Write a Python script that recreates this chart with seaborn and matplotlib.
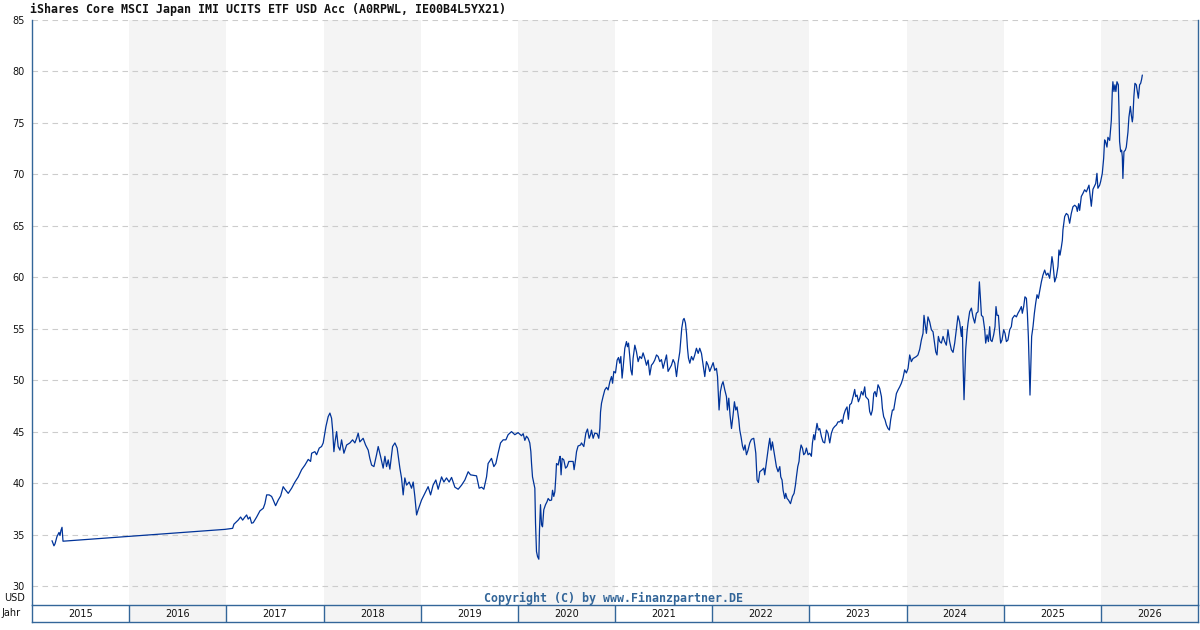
import numpy as np
import pandas as pd
import matplotlib.pyplot as plt
import seaborn as sns

# ------------------------------------------------------------------------------
# Data
# ------------------------------------------------------------------------------
title = "iShares Core MSCI Japan IMI UCITS ETF USD Acc (A0RPWL, IE00B4L5YX21)"
copyright_text = "Copyright (C) by www.Finanzpartner.DE"
years = list(range(2015, 2027))
y_ticks = [30, 35, 40, 45, 50, 55, 60, 65, 70, 75, 80, 85]

# time as decimal year
dates = [
    2015.206, 2015.226, 2015.237, 2015.257, 2015.278, 2015.288, 2015.298, 2015.309, 2015.319,
    2016.986, 2017.065, 2017.078, 2017.122, 2017.147, 2017.168, 2017.191, 2017.209, 2017.225,
    2017.243, 2017.260, 2017.277, 2017.312, 2017.346, 2017.380, 2017.397, 2017.415, 2017.441,
    2017.466, 2017.483, 2017.507, 2017.534, 2017.559, 2017.585, 2017.603, 2017.637, 2017.672,
    2017.706, 2017.740, 2017.775, 2017.809, 2017.843, 2017.867, 2017.878, 2017.911, 2017.929,
    2017.956, 2017.980, 2017.997, 2018.025, 2018.048, 2018.066, 2018.083, 2018.094, 2018.107,
    2018.117, 2018.135, 2018.151, 2018.169, 2018.186, 2018.210, 2018.238, 2018.272, 2018.299,
    2018.323, 2018.341, 2018.357, 2018.374, 2018.408, 2018.433, 2018.460, 2018.477, 2018.495,
    2018.519, 2018.546, 2018.563, 2018.587, 2018.614, 2018.632, 2018.649, 2018.666, 2018.683,
    2018.711, 2018.735, 2018.758, 2018.786, 2018.803, 2018.820, 2018.837, 2018.855, 2018.882,
    2018.906, 2018.923, 2018.940, 2018.958, 2018.974, 2019.009, 2019.043, 2019.077, 2019.102,
    2019.128, 2019.156, 2019.180, 2019.215, 2019.239, 2019.266, 2019.293, 2019.318, 2019.352,
    2019.386, 2019.421, 2019.455, 2019.489, 2019.513, 2019.575, 2019.602, 2019.627, 2019.650,
    2019.678, 2019.694, 2019.729, 2019.753, 2019.774, 2019.797, 2019.822, 2019.849, 2019.877,
    2019.900, 2019.935, 2019.969, 2020.003, 2020.038, 2020.055, 2020.072, 2020.089, 2020.106,
    2020.123, 2020.134, 2020.141, 2020.151, 2020.165, 2020.175, 2020.182, 2020.192, 2020.203,
    2020.216, 2020.223, 2020.233, 2020.244, 2020.254, 2020.267, 2020.285, 2020.301, 2020.312,
    2020.329, 2020.347, 2020.357, 2020.370, 2020.381, 2020.391, 2020.398, 2020.415, 2020.425,
    2020.435, 2020.445, 2020.456, 2020.473, 2020.491, 2020.507, 2020.525, 2020.569, 2020.579,
    2020.594, 2020.604, 2020.620, 2020.645, 2020.655, 2020.679, 2020.700, 2020.717, 2020.734,
    2020.748, 2020.758, 2020.775, 2020.792, 2020.816, 2020.833, 2020.844, 2020.851, 2020.861,
    2020.877, 2020.895, 2020.913, 2020.929, 2020.947, 2020.964, 2020.975, 2020.988, 2021.005,
    2021.022, 2021.036, 2021.049, 2021.060, 2021.073, 2021.083, 2021.101, 2021.118, 2021.128,
    2021.139, 2021.152, 2021.163, 2021.176, 2021.186, 2021.204, 2021.221, 2021.238, 2021.255,
    2021.273, 2021.289, 2021.307, 2021.324, 2021.341, 2021.358, 2021.375, 2021.392, 2021.409,
    2021.427, 2021.444, 2021.461, 2021.478, 2021.495, 2021.512, 2021.530, 2021.546, 2021.564,
    2021.581, 2021.598, 2021.615, 2021.633, 2021.649, 2021.667, 2021.677, 2021.687, 2021.701,
    2021.711, 2021.725, 2021.736, 2021.746, 2021.756, 2021.770, 2021.787, 2021.804, 2021.821,
    2021.838, 2021.856, 2021.872, 2021.890, 2021.914, 2021.924, 2021.941, 2021.958, 2021.975,
    2021.993, 2022.010, 2022.027, 2022.044, 2022.055, 2022.065, 2022.071, 2022.085, 2022.099,
    2022.112, 2022.130, 2022.147, 2022.157, 2022.171, 2022.184, 2022.199, 2022.215, 2022.229,
    2022.243, 2022.256, 2022.274, 2022.284, 2022.297, 2022.312, 2022.325, 2022.338, 2022.353,
    2022.369, 2022.387, 2022.404, 2022.428, 2022.438, 2022.449, 2022.462, 2022.476, 2022.490,
    2022.510, 2022.531, 2022.541, 2022.559, 2022.569, 2022.582, 2022.593, 2022.606, 2022.620,
    2022.634, 2022.647, 2022.661, 2022.678, 2022.696, 2022.706, 2022.719, 2022.730, 2022.747,
    2022.757, 2022.771, 2022.785, 2022.806, 2022.826, 2022.843, 2022.857, 2022.867, 2022.881,
    2022.894, 2022.901, 2022.915, 2022.929, 2022.942, 2022.956, 2022.970, 2022.987, 2023.004,
    2023.021, 2023.032, 2023.045, 2023.056, 2023.066, 2023.079, 2023.093, 2023.107, 2023.125,
    2023.141, 2023.158, 2023.176, 2023.192, 2023.210, 2023.227, 2023.244, 2023.261, 2023.279,
    2023.295, 2023.313, 2023.330, 2023.340, 2023.354, 2023.371, 2023.388, 2023.402, 2023.416,
    2023.433, 2023.450, 2023.467, 2023.477, 2023.491, 2023.505, 2023.519, 2023.536, 2023.553,
    2023.570, 2023.580, 2023.594, 2023.608, 2023.621, 2023.635, 2023.649, 2023.663, 2023.676,
    2023.690, 2023.707, 2023.724, 2023.742, 2023.752, 2023.765, 2023.779, 2023.793, 2023.810,
    2023.824, 2023.837, 2023.855, 2023.868, 2023.882, 2023.896, 2023.913, 2023.930, 2023.947,
    2023.964, 2023.981, 2023.999, 2024.016, 2024.033, 2024.050, 2024.067, 2024.102, 2024.118,
    2024.136, 2024.153, 2024.170, 2024.180, 2024.190, 2024.205, 2024.221, 2024.239, 2024.256,
    2024.273, 2024.287, 2024.301, 2024.314, 2024.328, 2024.342, 2024.359, 2024.376, 2024.393,
    2024.410, 2024.427, 2024.444, 2024.462, 2024.479, 2024.496, 2024.513, 2024.530, 2024.547,
    2024.565, 2024.575, 2024.581, 2024.592, 2024.599, 2024.609, 2024.623, 2024.633, 2024.650,
    2024.668, 2024.684, 2024.702, 2024.719, 2024.736, 2024.743, 2024.750, 2024.760, 2024.771,
    2024.787, 2024.805, 2024.815, 2024.829, 2024.843, 2024.856, 2024.866, 2024.880, 2024.897,
    2024.911, 2024.921, 2024.932, 2024.946, 2024.959, 2024.969, 2024.983, 2025.000, 2025.014,
    2025.028, 2025.044, 2025.062, 2025.079, 2025.090, 2025.113, 2025.131, 2025.147, 2025.165,
    2025.182, 2025.192, 2025.206, 2025.219, 2025.234, 2025.244, 2025.254, 2025.264, 2025.271,
    2025.278, 2025.288, 2025.302, 2025.316, 2025.329, 2025.343, 2025.357, 2025.370, 2025.388,
    2025.404, 2025.422, 2025.439, 2025.456, 2025.473, 2025.487, 2025.497, 2025.507, 2025.525,
    2025.542, 2025.559, 2025.569, 2025.580, 2025.594, 2025.604, 2025.610, 2025.628, 2025.645,
    2025.662, 2025.679, 2025.696, 2025.713, 2025.731, 2025.748, 2025.758, 2025.772, 2025.782,
    2025.799, 2025.816, 2025.833, 2025.851, 2025.878, 2025.902, 2025.919, 2025.947, 2025.960,
    2025.970, 2025.988, 2025.998, 2026.015, 2026.029, 2026.039, 2026.049, 2026.063, 2026.073,
    2026.091, 2026.108, 2026.118, 2026.124, 2026.135, 2026.145, 2026.155, 2026.166, 2026.180,
    2026.186, 2026.193, 2026.204, 2026.214, 2026.221, 2026.227, 2026.238, 2026.252, 2026.262,
    2026.279, 2026.289, 2026.304, 2026.314, 2026.324, 2026.330, 2026.340, 2026.351, 2026.365,
    2026.375, 2026.386, 2026.399, 2026.410, 2026.420, 2026.427,
]

# price in USD
prices = [
    34.4, 33.9, 34.1, 34.8, 35.2, 34.9, 35.4, 35.7, 34.35,
    35.5, 35.6, 36.0, 36.4, 36.7, 36.4, 36.7, 36.9, 36.5,
    36.7, 36.1, 36.15, 36.7, 37.3, 37.55, 38.0, 38.85, 38.85,
    38.7, 38.35, 37.8, 38.35, 38.75, 39.65, 39.4, 39.0, 39.5,
    40.1, 40.6, 41.3, 41.75, 42.3, 42.1, 42.9, 43.05, 42.75,
    43.4, 43.55, 43.9, 45.5, 46.45, 46.8, 46.3, 45.15, 43.05,
    43.9, 45.0, 43.55, 43.2, 44.2, 42.9, 43.7, 43.9, 44.2,
    43.9, 44.35, 44.85, 44.0, 44.35, 43.7, 43.2, 42.4, 41.75,
    41.6, 42.75, 43.55, 42.6, 41.45, 42.6, 41.6, 42.25, 41.35,
    43.55, 43.9, 43.4, 41.45, 40.5, 38.85, 40.5, 39.8, 40.1,
    39.5, 40.1, 38.7, 36.9, 37.4, 38.35, 39.0, 39.65, 38.85,
    39.8, 40.3, 39.4, 40.6, 40.1, 40.5, 40.1, 40.55, 39.6,
    39.4, 39.8, 40.3, 41.1, 40.8, 40.7, 39.5, 39.6, 39.4,
    40.6, 41.9, 42.4, 41.6, 41.9, 42.9, 43.9, 44.2, 44.2,
    44.7, 45.0, 44.7, 44.9, 44.6, 44.8, 44.15, 44.55, 44.35,
    43.9, 43.05, 41.9, 40.6, 39.95, 39.5, 36.1, 33.35, 32.85,
    32.6, 35.45, 37.9, 35.95, 35.75, 37.4, 37.9, 38.2, 38.5,
    38.3, 38.35, 39.3, 38.7, 39.15, 40.6, 41.9, 41.75, 42.25,
    42.6, 40.8, 42.4, 42.25, 41.45, 41.6, 42.1, 42.1, 41.3,
    42.25, 43.05, 43.6, 43.7, 43.9, 43.55, 44.85, 45.25, 44.35,
    44.7, 45.15, 44.35, 44.85, 44.8, 44.35, 45.3, 46.9, 47.75,
    48.4, 49.05, 49.3, 49.05, 49.85, 50.35, 49.7, 50.85, 50.7,
    51.95, 52.2, 51.65, 52.3, 50.2, 51.15, 53.1, 53.75, 53.25,
    53.6, 52.3, 51.0, 50.5, 52.1, 53.4, 52.75, 51.8, 52.3,
    52.1, 52.65, 52.1, 51.45, 51.95, 50.5, 51.45, 51.65, 51.95,
    52.45, 52.3, 51.8, 52.0, 51.15, 51.8, 52.45, 50.85, 51.15,
    51.45, 52.0, 51.65, 50.35, 51.65, 52.75, 53.9, 55.05, 55.85,
    56.0, 55.55, 54.55, 53.1, 52.15, 51.65, 52.3, 51.95, 52.45,
    53.1, 52.6, 53.1, 52.6, 51.05, 50.35, 51.8, 51.45, 50.85,
    51.3, 51.7, 50.95, 51.15, 50.35, 48.4, 47.1, 48.9, 49.55,
    49.85, 49.05, 48.4, 47.1, 48.25, 46.6, 45.3, 46.6, 47.9,
    47.1, 47.4, 46.15, 45.15, 44.5, 43.6, 43.2, 43.7, 42.75,
    43.2, 43.9, 44.25, 44.35, 43.7, 42.9, 40.3, 40.05, 41.1,
    41.25, 41.45, 40.8, 42.1, 42.9, 43.7, 44.35, 43.2, 44.0,
    43.2, 42.4, 41.6, 41.1, 41.6, 40.6, 40.3, 39.3, 38.5,
    39.0, 38.5, 38.35, 38.0, 38.7, 39.0, 39.8, 40.6, 41.6,
    42.1, 42.9, 43.7, 43.4, 42.75, 42.9, 43.4, 42.75, 42.9,
    42.6, 43.9, 44.7, 44.2, 45.0, 45.8, 45.15, 45.3, 44.5,
    44.0, 43.9, 45.15, 44.85, 43.9, 44.85, 45.3, 45.5, 45.65,
    45.95, 45.95, 46.15, 45.8, 46.6, 47.1, 47.4, 46.2, 47.6,
    47.75, 48.4, 49.1, 48.4, 48.55, 47.9, 48.25, 48.9, 48.55,
    49.35, 48.4, 48.25, 48.1, 46.95, 46.6, 47.1, 48.7, 48.9,
    48.4, 49.55, 49.2, 48.4, 47.25, 46.45, 46.15, 45.65, 45.3,
    45.15, 46.15, 47.1, 47.1, 47.9, 48.7, 49.05, 49.35, 49.7,
    50.2, 51.0, 50.7, 51.15, 52.45, 51.8, 52.1, 52.3, 52.45,
    53.0, 53.9, 54.55, 56.3, 55.55, 54.55, 56.15, 55.65, 54.9,
    54.7, 53.75, 52.75, 52.45, 54.25, 53.75, 53.6, 54.25, 53.75,
    53.4, 54.9, 53.75, 52.95, 52.7, 53.6, 54.9, 56.25, 55.65,
    54.25, 55.2, 51.95, 48.1, 50.0, 52.95, 54.7, 55.55, 56.65,
    57.0, 56.15, 55.55, 56.5, 56.65, 58.1, 59.55, 58.1, 56.3,
    56.15, 54.9, 53.6, 54.4, 53.75, 55.2, 53.9, 53.75, 54.4,
    55.2, 57.15, 56.3, 56.3, 54.55, 53.6, 53.9, 54.9, 54.55,
    53.75, 53.9, 54.9, 55.2, 56.0, 56.3, 56.15, 56.5, 56.8,
    57.15, 56.5, 57.15, 58.1, 57.95, 56.5, 54.25, 51.0, 48.55,
    51.0, 54.25, 55.2, 56.5, 57.45, 58.3, 57.95, 58.6, 59.55,
    60.2, 60.7, 60.2, 60.4, 59.9, 61.05, 62.0, 61.35, 59.55,
    60.05, 61.05, 62.65, 62.15, 62.95, 63.6, 64.6, 65.9, 66.2,
    66.05, 65.25, 66.2, 66.85, 67.0, 66.85, 66.4, 67.15, 66.5,
    67.85, 68.15, 68.5, 68.3, 68.95, 66.9, 68.55, 69.1, 70.1,
    68.65, 68.95, 69.3, 70.1, 71.55, 73.35, 73.15, 72.65, 73.6,
    73.3, 75.25, 78.05, 79.0, 78.05, 78.7, 78.05, 79.0, 78.7,
    76.6, 73.2, 72.2, 72.35, 71.7, 69.6, 72.2, 72.35, 72.65,
    74.1, 75.55, 76.6, 75.75, 75.1, 75.55, 77.55, 78.85, 78.7,
    78.05, 77.4, 78.7, 78.85, 79.25, 79.65,
]

df = pd.DataFrame({"date": dates, "price": prices})

# ------------------------------------------------------------------------------
# Styling
# ------------------------------------------------------------------------------
sns.set_style("white")
plt.rcParams["font.family"] = ["DejaVu Sans"]

line_col = "#003399"
frame_col = "#336699"
band_col = "#f4f4f4"
grid_col = "#cccccc"
label_size = 7

W, H = 1200, 630
fig = plt.figure(figsize=(W / 100, H / 100), dpi=100)

# main chart area (pixel box 32..1198 x 20..605)
ax = fig.add_axes([32 / W, 25 / H, 1166 / W, 585 / H])
for i, yr in enumerate(years):
    if i % 2 == 1:
        ax.axvspan(yr, yr + 1, color=band_col, lw=0, zorder=0)
for v in y_ticks:
    ax.axhline(v, color=grid_col, lw=0.8, ls=(0, (5, 4)), zorder=1)

sns.lineplot(data=df, x="date", y="price", ax=ax, color=line_col, lw=0.9,
             sort=False, estimator=None, zorder=3)

ax.set_xlim(2015, 2027)
ax.set_ylim(28.15, 85)
ax.set_xticks([])
ax.set_yticks(y_ticks)
ax.set_yticklabels([str(v) for v in y_ticks], fontsize=label_size, color="#111111")
ax.tick_params(axis="y", length=0, pad=5)
ax.set_xlabel("")
ax.set_ylabel("")
for side in ["top", "bottom"]:
    ax.spines[side].set_visible(False)
for side in ["left", "right"]:
    ax.spines[side].set_color(frame_col)
    ax.spines[side].set_linewidth(1.0)

# year row under the chart
yax = fig.add_axes([32 / W, 8 / H, 1166 / W, 17 / H])
yax.set_xlim(2015, 2027)
yax.set_ylim(0, 1)
for i, yr in enumerate(years):
    if i % 2 == 1:
        yax.axvspan(yr, yr + 1, color=band_col, lw=0, zorder=0)
    if i > 0:
        yax.axvline(yr, color=frame_col, lw=1.0)
    yax.text(yr + 0.5, 0.45, str(yr), ha="center", va="center", fontsize=label_size, color="#111111")
yax.set_xticks([])
yax.set_yticks([])
for s in yax.spines.values():
    s.set_color(frame_col)
    s.set_linewidth(1.0)

# texts
fig.text(30 / W, 1 - 9 / H, title, ha="left", va="center", fontsize=8.35,
         family="DejaVu Sans Mono", weight="bold", color="#111111")
fig.text(614 / W, 1 - 598 / H, copyright_text, ha="center", va="center", fontsize=8.4,
         family="DejaVu Sans Mono", weight="bold", color=frame_col)
fig.text(25 / W, 1 - 598 / H, "USD", ha="right", va="center", fontsize=label_size, color="#111111")
fig.text(1 / W, 1 - 613 / H, "Jahr", ha="left", va="center", fontsize=label_size, color="#111111")

fig.savefig("out.png", dpi=100)
